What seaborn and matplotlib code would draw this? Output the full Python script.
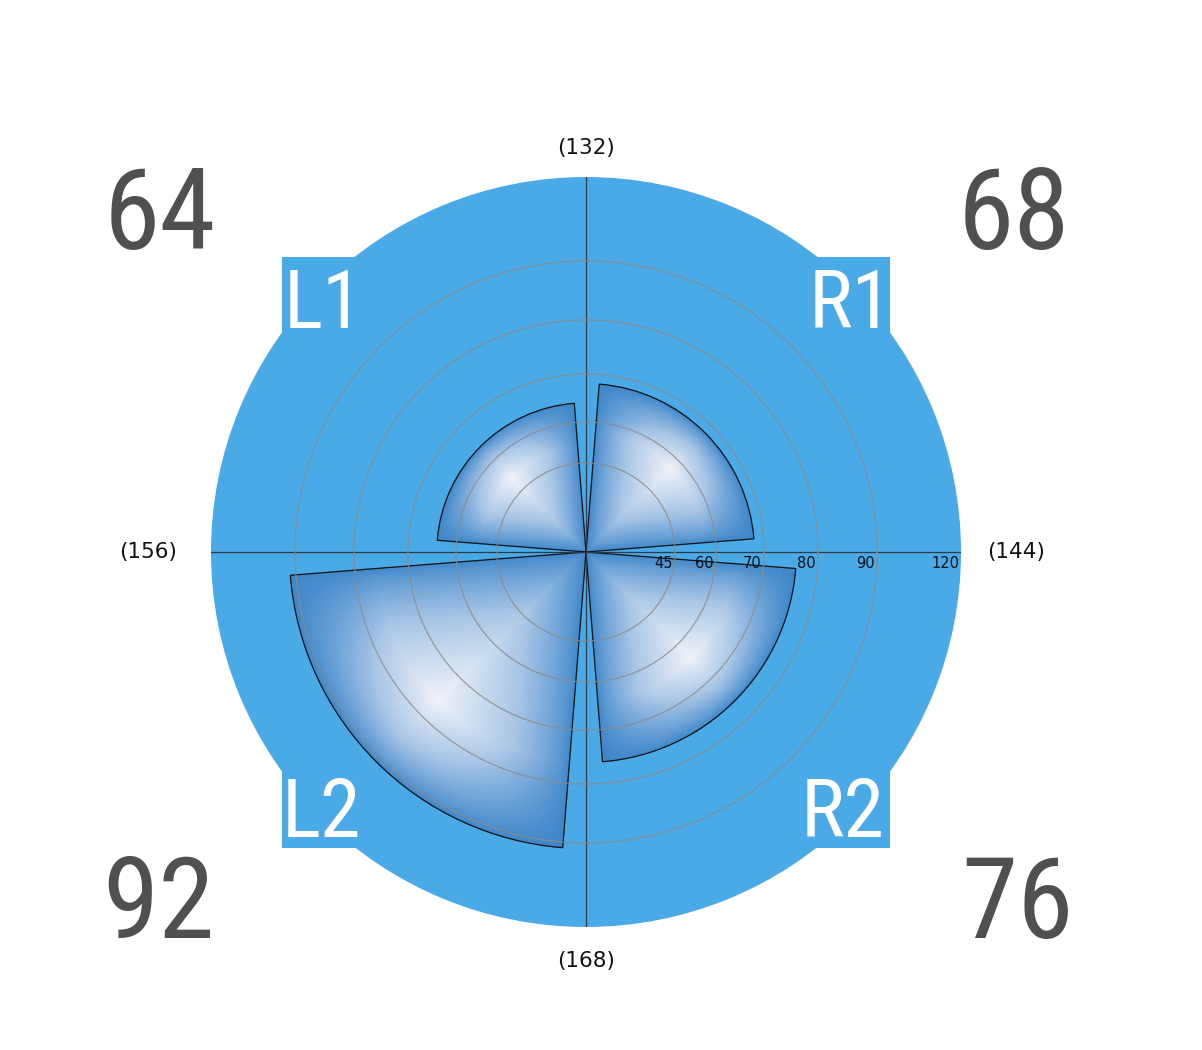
import numpy as np
import matplotlib
matplotlib.use("Agg")
import matplotlib.pyplot as plt
from matplotlib import font_manager
from matplotlib.patches import Rectangle
import seaborn as sns

# ---------------- data ----------------
categories = ["R1", "L1", "L2", "R2"]          # quadrants, counter-clockwise from east
values = [68, 64, 92, 76]
r_ticks = [45, 60, 70, 80, 90, 120]
r_tick_frac = [89 / 375, 130 / 375, 178 / 375, 232 / 375, 291 / 375, 1.0]  # radial scale breakpoints
r_max = 120

# ---------------- style ----------------
sns.set_theme(style="white")
names = {f.name for f in font_manager.fontManager.ttflist}
narrow = None
for cand in ["Liberation Sans Narrow", "Roboto Condensed", "Open Sans Condensed",
             "DejaVu Sans Condensed", "Noto Sans Condensed"]:
    if cand in names:
        narrow = cand
        break
plt.rcParams["font.family"] = ["DejaVu Sans"]
narrow_kw = {"family": narrow} if narrow else {"family": "DejaVu Sans", "stretch": "condensed"}

BLUE_BG = "#4aa9e7"
EDGE_BLUE = "#3e86ca"
PEAK = "#f0f2f7"
cmap = sns.blend_palette([EDGE_BLUE, "#a9c6e6", PEAK], as_cmap=True)

W, H = 1202, 1050
fig = plt.figure(figsize=(W / 100, H / 100), dpi=100)
fig.patch.set_facecolor("white")

cx, cy, R = 586, 552, 375
ax = fig.add_axes([(cx - R) / W, (H - cy - R) / H, 2 * R / W, 2 * R / H], projection="polar")

# radial scale (piecewise linear through tick breakpoints)
rk = np.array([0.0] + r_ticks, dtype=float)
pk = np.array([0.0] + r_tick_frac, dtype=float)


def fwd(r):
    r = np.asarray(r, dtype=float)
    out = np.interp(r, rk, pk)
    slope = (pk[-1] - pk[-2]) / (rk[-1] - rk[-2])
    out = np.where(r > rk[-1], pk[-1] + (r - rk[-1]) * slope, out)
    out = np.where(r < 0, r * pk[1] / rk[1], out)
    return out


def inv(p):
    p = np.asarray(p, dtype=float)
    out = np.interp(p, pk, rk)
    slope = (rk[-1] - rk[-2]) / (pk[-1] - pk[-2])
    out = np.where(p > pk[-1], rk[-1] + (p - pk[-1]) * slope, out)
    out = np.where(p < 0, p * rk[1] / pk[1], out)
    return out


ax.set_rscale("function", functions=(fwd, inv))
ax.set_theta_zero_location("E")
ax.set_rlim(0, r_max)
ax.set_facecolor(BLUE_BG)
ax.spines["polar"].set_visible(False)

n = len(categories)
theta = np.deg2rad(45 + 90 * np.arange(n))
width = np.deg2rad(81)

# gradient fill inside each wedge
p0 = 0.71
for tc, v in zip(theta, values):
    th_e = np.linspace(tc - width / 2, tc + width / 2, 141)
    pe = np.linspace(0, 1, 161)
    r_e = inv(pe * fwd(v))
    TH, RR = np.meshgrid(th_e, r_e)
    thc = 0.5 * (th_e[:-1] + th_e[1:])
    pc = 0.5 * (pe[:-1] + pe[1:])
    U = np.abs((thc - tc) / (width / 2))
    V = np.where(pc < p0, (p0 - pc) / p0, (pc - p0) / (1 - p0))
    B = np.outer(1 - V, 1 - U) ** 0.75
    ax.pcolormesh(TH, RR, B, cmap=cmap, vmin=0, vmax=1, shading="flat",
                  linewidth=0, antialiased=False, zorder=1)

ax.bar(theta, values, width=width, bottom=0, facecolor="none",
       edgecolor="#111111", linewidth=0.9, zorder=2)

# grid
ax.set_axisbelow(False)
ax.set_yticks(r_ticks[:-1])
ax.set_yticklabels([])
ax.set_xticks(np.deg2rad([0, 90, 180, 270]))
ax.set_xticklabels([])
ax.yaxis.grid(True, color="#8d8a86", linewidth=0.9, alpha=0.8)
ax.xaxis.grid(True, color="#2e3a45", linewidth=0.9)
ax.tick_params(axis="both", length=0)

# radial tick labels
for r in r_ticks:
    ax.annotate(str(r), xy=(0, r), xytext=(-2, -11), textcoords="offset pixels",
                ha="right", va="center", fontsize=10.5, color="#111111",
                annotation_clip=False, zorder=5)

# totals on the axes (sum of neighbouring quadrants)
totals = [values[k] + values[k - 1] for k in range(n)]
tot_angles = np.deg2rad([0, 90, 180, 270])
offs = [((26, 0), "left", "center"), ((0, 19), "center", "bottom"),
        ((-34, 0), "right", "center"), ((0, -24), "center", "top")]
for ang, tot, (off, ha, va) in zip(tot_angles, totals, offs):
    ax.annotate(f"({tot})", xy=(ang, r_max), xytext=off, textcoords="offset pixels",
                ha=ha, va=va, fontsize=15.5, color="#111111", annotation_clip=False)


def fx(x):
    return x / W


def fy(y):
    return 1 - y / H


# quadrant label boxes
boxes = {"R1": (806, 257, 890, 340), "L1": (282, 257, 360, 340),
         "L2": (282, 762, 358, 848), "R2": (804, 765, 890, 848)}
label_pos = {"R1": (851, 328), "L1": (323, 328), "L2": (322, 837), "R2": (843, 837)}
num_pos = {"R1": (1014, 249), "L1": (160, 249), "L2": (158, 938), "R2": (1017, 938)}
for cat, val in zip(categories, values):
    x0, y0, x1, y1 = boxes[cat]
    fig.patches.append(Rectangle((fx(x0), fy(y1)), fx(x1) - fx(x0), fy(y0) - fy(y1),
                                 transform=fig.transFigure, facecolor=BLUE_BG,
                                 edgecolor="none", zorder=-1))
    lx, ly = label_pos[cat]
    fig.text(fx(lx), fy(ly), cat, ha="center", va="baseline", fontsize=59,
             color="white", **narrow_kw)
    nx, ny = num_pos[cat]
    fig.text(fx(nx), fy(ny), str(val), ha="center", va="baseline", fontsize=82,
             color="#505050", **narrow_kw)

fig.savefig("out.png", dpi=100, facecolor="white")
